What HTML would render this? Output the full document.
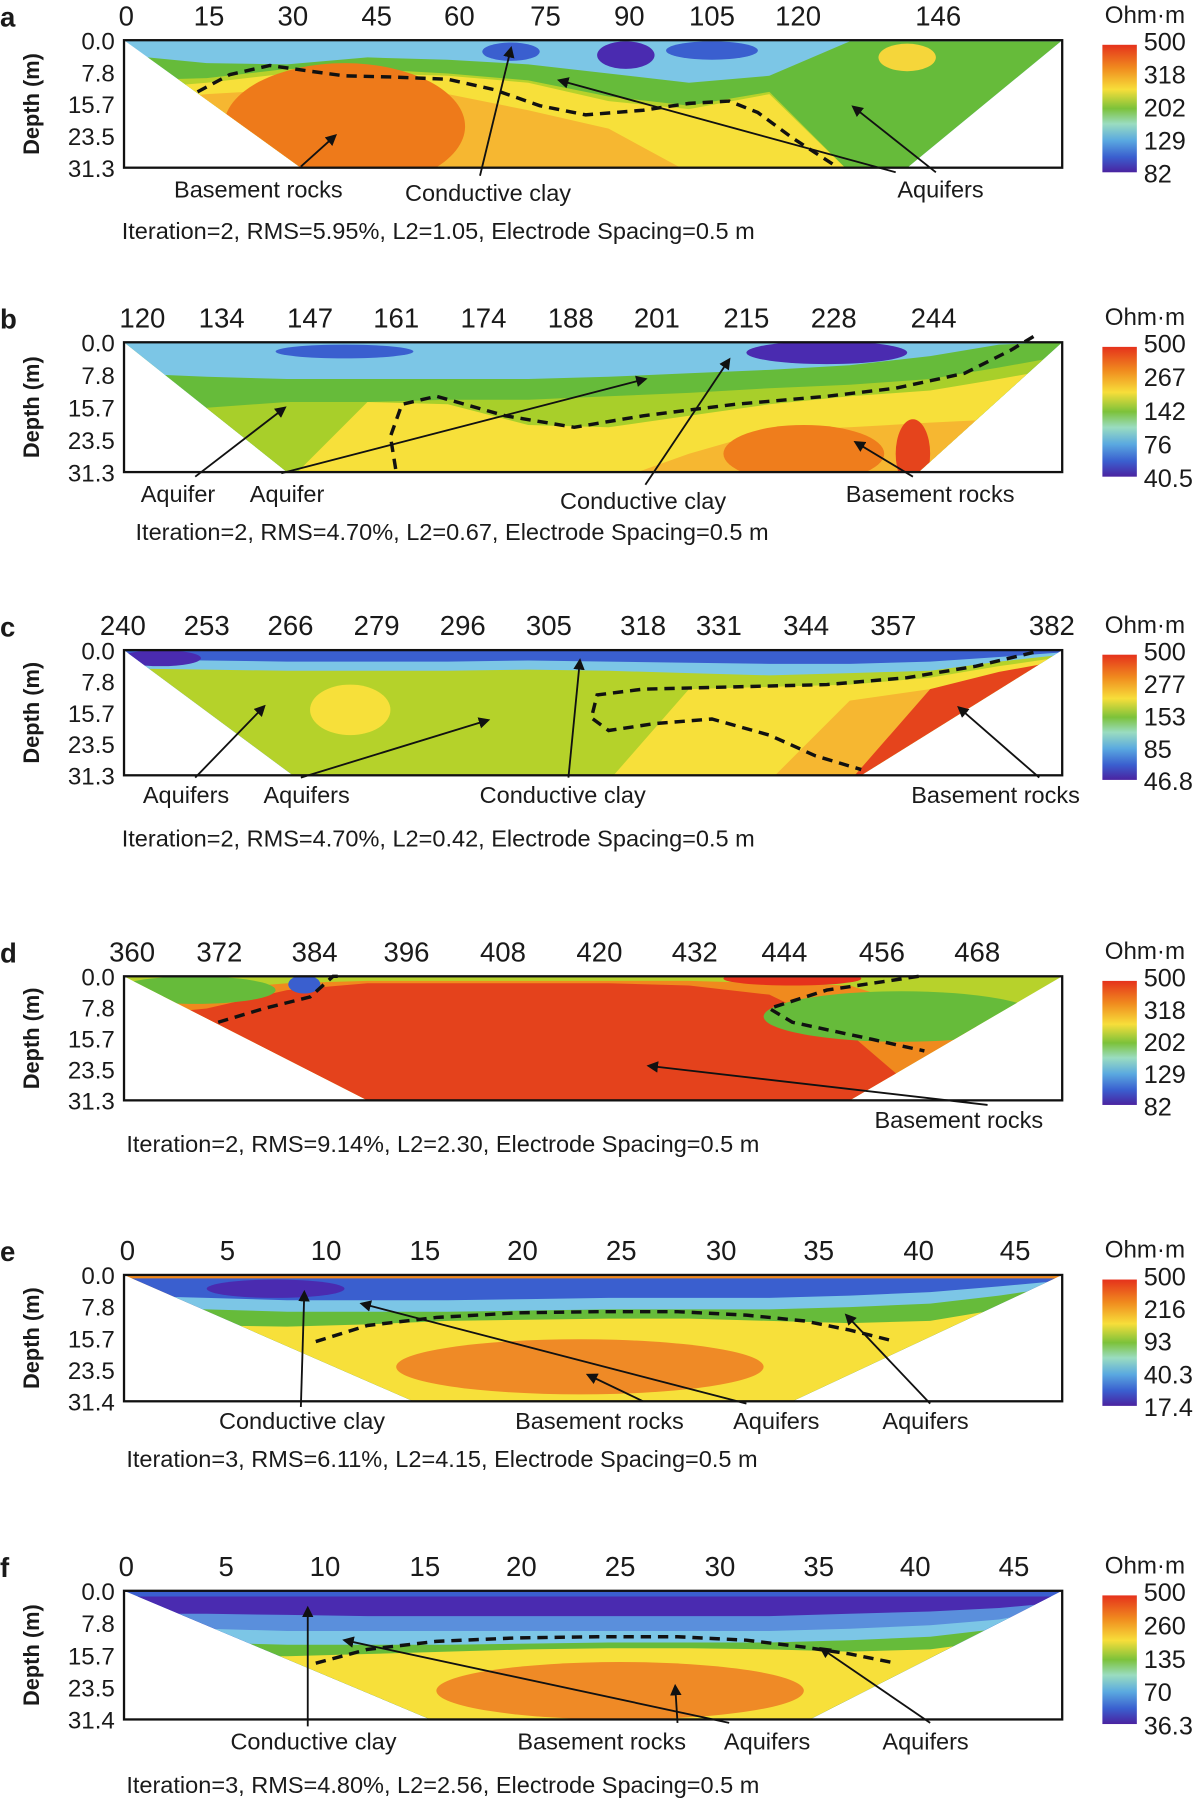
<!DOCTYPE html>
<html><head><meta charset="utf-8"><style>
html,body{margin:0;padding:0;background:#fff}
svg{display:block}
text{font-family:"Liberation Sans",sans-serif;fill:#1a1a1a}
</style></head><body>
<svg id="fig" width="1200" height="1801" viewBox="0 0 1045 1568" preserveAspectRatio="none" xmlns="http://www.w3.org/2000/svg">
<defs>
<linearGradient id="cb" x1="0" y1="0" x2="0" y2="1">
<stop offset="0" stop-color="#e5321c"/><stop offset="0.18" stop-color="#f08a1e"/><stop offset="0.35" stop-color="#f7de3a"/>
<stop offset="0.5" stop-color="#7cc23a"/><stop offset="0.62" stop-color="#9adcc0"/><stop offset="0.75" stop-color="#5aa9e0"/>
<stop offset="0.88" stop-color="#3a5fcf"/><stop offset="1" stop-color="#4a23a0"/></linearGradient>
<marker id="ah" markerWidth="10" markerHeight="10" refX="8" refY="5" orient="auto" markerUnits="userSpaceOnUse"><path d="M0,0 L10,5 L0,10 z" fill="#111"/></marker>
</defs>
</svg>
<script>
const panelLetters=['a','b','c','d','e','f'];
const frameTops=[35,298,566,850,1110,1385];
const frameBottoms=[146,411,675,958,1220,1497];
const tickLabels=[
['0','15','30','45','60','75','90','105','120','146'],
['120','134','147','161','174','188','201','215','228','244'],
['240','253','266','279','296','305','318','331','344','357','382'],
['360','372','384','396','408','420','432','444','456','468'],
['0','5','10','15','20','25','30','35','40','45'],
['0','5','10','15','20','25','30','35','40','45']];
const tickPos=[
[110,182,255,328,400,475,548,620,695,817],
[124,193,270,345,421,497,572,650,726,813],
[107,180,253,328,403,478,560,626,702,778,916],
[115,191,274,354,438,522,605,683,768,851],
[111,198,284,370,455,541,628,713,800,884],
[110,197,283,370,454,540,627,713,797,883]];
const depthLabels=[['0.0','7.8','15.7','23.5','31.3'],['0.0','7.8','15.7','23.5','31.3'],['0.0','7.8','15.7','23.5','31.3'],['0.0','7.8','15.7','23.5','31.3'],['0.0','7.8','15.7','23.5','31.4'],['0.0','7.8','15.7','23.5','31.4']];
const cbLabels=[['500','318','202','129','82'],['500','267','142','76','40.5'],['500','277','153','85','46.8'],['500','318','202','129','82'],['500','216','93','40.3','17.4'],['500','260','135','70','36.3']];
const captions=['Iteration=2, RMS=5.95%, L2=1.05, Electrode Spacing=0.5 m','Iteration=2, RMS=4.70%, L2=0.67, Electrode Spacing=0.5 m','Iteration=2, RMS=4.70%, L2=0.42, Electrode Spacing=0.5 m','Iteration=2, RMS=9.14%, L2=2.30, Electrode Spacing=0.5 m','Iteration=3, RMS=6.11%, L2=4.15, Electrode Spacing=0.5 m','Iteration=3, RMS=4.80%, L2=2.56, Electrode Spacing=0.5 m'];
const captionX=[106,118,106,110,110,110];
const trapBottom=[[262,790],[250,800],[255,750],[320,740],[360,690],[375,705]];
const xs=[108,180,250,320,390,460,530,600,670,740,810,870,925];
const layers=[
[['#7cc6e6',[35,35,35,35,35,35,35,35,35,35,35,35,35]],['#66bb3a',[48,55,56,50,52,56,64,72,66,36,36,36,36]],['#b7d22b',[70,68,60,60,64,70,84,92,80,150,150,150,150]],['#f7e03a',[78,72,64,64,66,72,88,95,82,150,150,150,150]],['#f6b731',[90,82,78,78,82,96,112,150,150,150,150,150,150]]],
[['#66bb3a',[298,298,298,298,298,298,298,298,298,298,298,298,298]],['#7cc6e6',[298,298,298,298,298,298,298,298,298,298,298,298,298]],['#66bb3a',[325,328,330,330,330,330,328,325,322,318,310,300,298]],['#a8cf2a',[360,355,350,350,348,348,345,342,338,335,330,320,310]],['#f7e03a',[420,420,420,350,352,370,372,362,352,345,340,330,320]],['#f6b731',[420,420,420,420,420,420,420,395,375,372,368,365,360]]],
[['#3a5fcf',[566,566,566,566,566,566,566,566,566,566,566,566,566]],['#7cc6e6',[574,575,576,576,576,575,576,577,578,578,576,572,568]],['#b5d22a',[582,583,584,584,584,583,584,586,588,586,584,576,570]],['#f7e03a',[680,680,680,680,680,680,680,600,598,596,590,580,572]],['#f6b731',[680,680,680,680,680,680,680,680,680,610,600,588,575]],['#e5441c',[680,680,680,680,680,680,680,680,680,680,600,585,575]]],
[['#b7d22b',[850,850,850,850,850,850,850,850,850,850,850,850,850]],['#f08a1e',[872,862,856,854,854,854,854,854,856,858,880,900,920]],['#e4421c',[885,878,862,856,856,856,856,858,866,900,960,960,960]]],
[['#f08a1e',[1110,1110,1110,1110,1110,1110,1110,1110,1110,1110,1110,1110,1110]],['#3a5fcf',[1113,1113,1113,1113,1113,1113,1113,1113,1113,1113,1113,1113,1113]],['#7cc6e6',[1128,1130,1132,1132,1132,1131,1130,1130,1130,1128,1125,1120,1115]],['#66bb3a',[1138,1140,1142,1142,1142,1141,1140,1140,1140,1138,1135,1128,1120]],['#f7e03a',[1150,1154,1155,1153,1150,1149,1148,1148,1150,1152,1150,1140,1130]]],
[['#3a5fcf',[1385,1385,1385,1385,1385,1385,1385,1385,1385,1385,1385,1385,1385]],['#4a2bb0',[1390,1390,1390,1390,1390,1390,1390,1390,1390,1390,1390,1390,1390]],['#5a8fdc',[1405,1405,1406,1407,1407,1407,1407,1407,1407,1405,1403,1400,1395]],['#7cc6e6',[1418,1418,1420,1420,1420,1420,1420,1420,1420,1418,1415,1410,1400]],['#66bb3a',[1428,1430,1432,1432,1432,1431,1430,1430,1430,1428,1425,1418,1408]],['#f7e03a',[1440,1442,1442,1440,1438,1436,1435,1435,1436,1438,1436,1428,1415]]]];
const blobs=[
[['#ee7a1a',300,110,105,55],['#4a2bb0',545,48,25,12],['#3a5fcf',445,45,25,8],['#3a5fcf',620,44,40,8],['#f5d63a',790,50,25,12]],
[['#4a2bb0',720,307,70,10],['#3a5fcf',300,306,60,6],['#ef7d1c',700,395,70,25],['#e5441c',795,395,15,30]],
[['#4a2bb0',140,573,35,7],['#f7e03a',305,618,35,22]],
[['#3a5fcf',265,857,14,8],['#66bb3a',170,862,70,12],['#66bb3a',785,885,120,22],['#e5321c',690,852,60,6]],
[['#ef8a26',505,1190,160,24],['#4a2bb0',240,1122,60,8]],
[['#ef8a26',540,1472,160,25]]];
const dashed=[
[[172,80],[200,65],[235,57],[270,62],[300,66],[340,67],[390,69],[430,78],[470,92],[510,100],[560,96],[600,90],[635,88],[660,98],[690,120],[730,146]],
[[900,293],[880,305],[840,325],[780,338],[720,345],[640,352],[560,362],[500,372],[440,362],[380,345],[350,352],[340,380],[345,411]],
[[900,568],[850,580],[790,590],[720,596],[640,598],[560,600],[520,605],[515,625],[530,636],[570,630],[620,626],[670,640],[710,658],[750,670]],
[[190,890],[230,878],[270,868],[290,850],[300,850]],
[[275,1168],[320,1154],[380,1147],[450,1143],[520,1142],[590,1142],[650,1145],[700,1150],[740,1158],[780,1168]],
[[275,1448],[320,1436],[380,1429],[450,1426],[520,1425],[590,1425],[650,1428],[700,1434],[740,1440],[780,1448]]];
const dashed2=[null,null,null,[[800,850],[720,862],[670,878],[690,890],[760,905],[805,915]],null,null];
const annotations=[
[['Basement rocks',225,172,[262,145,292,118]],['Conductive clay',425,175,[418,153,445,42]],['Aquifers',819,172,[780,150,487,70]],[null,0,0,[815,150,743,93]]],
[['Aquifer',155,437,[170,415,248,355]],['Aquifer',250,437,[245,412,562,330]],['Conductive clay',560,443,[562,422,635,313]],['Basement rocks',810,437,[795,415,745,385]]],
[['Aquifers',162,699,[170,677,230,615]],['Aquifers',267,699,[262,677,425,627]],['Conductive clay',490,699,[495,677,505,575]],['Basement rocks',867,699,[905,677,835,616]]],
[['Basement rocks',835,982,[860,962,565,928]]],
[['Conductive clay',263,1244,[262,1225,265,1125]],['Basement rocks',522,1244,[560,1220,512,1197]],['Aquifers',676,1244,[650,1222,315,1135]],['Aquifers',806,1244,[810,1222,737,1145]]],
[['Conductive clay',273,1523,[268,1503,268,1400]],['Basement rocks',524,1523,[590,1500,588,1468]],['Aquifers',668,1523,[635,1500,300,1428]],['Aquifers',806,1523,[810,1500,715,1435]]]];

const NS='http://www.w3.org/2000/svg';
const svg=document.getElementById('fig');
function mk(tag,attrs,parent){const e=document.createElementNS(NS,tag);for(const k in attrs)e.setAttribute(k,attrs[k]);(parent||svg).appendChild(e);return e;}
const L=108,R=925;
panelLetters.forEach((p,i)=>{
  const T=frameTops[i],B=frameBottoms[i];
  const g=mk('g',{});
  
  
  const cid='clip'+i;
  const cp=mk('clipPath',{id:cid},g);
  mk('polygon',{points:`${L},${T} ${R},${T} ${trapBottom[i][1]},${B} ${trapBottom[i][0]},${B}`},cp);
  const sec=mk('g',{'clip-path':`url(#${cid})`},g);
  
  
  layers[i].forEach(([c,ys])=>{
    let d='M'+xs[0]+','+ys[0];
    for(let k=1;k<xs.length;k++)d+=' L'+xs[k]+','+ys[k];
    d+=` L${R},${B+5} L${L},${B+5} Z`;
    const pth=mk('path',{d:d,fill:c},sec);
    
    
  });
  blobs[i].forEach(([c,cx,cy,rx,ry])=>{
    const el=mk('ellipse',{cx:cx,cy:cy,rx:rx,ry:ry,fill:c},sec);
    
    
  });
  [dashed[i],dashed2[i]].forEach(pts=>{
    if(!pts)return;
    const dl=mk('polyline',{points:pts.map(q=>q.join(',')).join(' '),fill:'none',stroke:'#111','stroke-width':3,'stroke-dasharray':'9,6'},g);
    
    
  });
  const fr=mk('rect',{x:L,y:T,width:R-L,height:B-T,fill:'none',stroke:'#111','stroke-width':2},g);
  
  
  const lt=mk('text',{x:0,y:T-12,'font-size':24,'font-weight':'bold'},g);lt.textContent=p;
  
  
  tickLabels[i].forEach((t,k)=>{
    const tx=mk('text',{x:tickPos[i][k],y:T-13,'font-size':24,'text-anchor':'middle'},g);tx.textContent=t;
    
    
  });
  depthLabels[i].forEach((t,k)=>{
    const y=T+(B-T)*k/4+8;
    const tx=mk('text',{x:100,y:y,'font-size':21,'text-anchor':'end'},g);tx.textContent=t;
    
    
  });
  const yt=mk('text',{x:0,y:0,'font-size':19,'font-weight':'bold','text-anchor':'middle',transform:`translate(34,${(T+B)/2}) rotate(-90)`},g);yt.textContent='Depth (m)';
  
  
  const cb=mk('rect',{x:960,y:T+4,width:30,height:B-T,fill:'url(#cb)'},g);
  
  
  const ut=mk('text',{x:997,y:T-15,'font-size':21,'text-anchor':'middle'},g);ut.textContent='Ohm·m';
  
  
  cbLabels[i].forEach((t,k)=>{
    const tx=mk('text',{x:996,y:T+(B-T+4)*k/4+9,'font-size':22},g);tx.textContent=t;
    
    
  });
  annotations[i].forEach(([t,x,y,a])=>{
    if(t){const tx=mk('text',{x:x,y:y,'font-size':20.5,'text-anchor':'middle'},g);tx.textContent=t;
      
      }
    const ln=mk('line',{x1:a[0],y1:a[1],x2:a[2],y2:a[3],stroke:'#111','stroke-width':1.6,'marker-end':'url(#ah)'},g);
    
    
  });
  const cap=mk('text',{x:captionX[i],y:[208,470,737,1003,1277,1561][i],'font-size':20.5},g);cap.textContent=captions[i];
  
  
});
</script>
</body></html>
